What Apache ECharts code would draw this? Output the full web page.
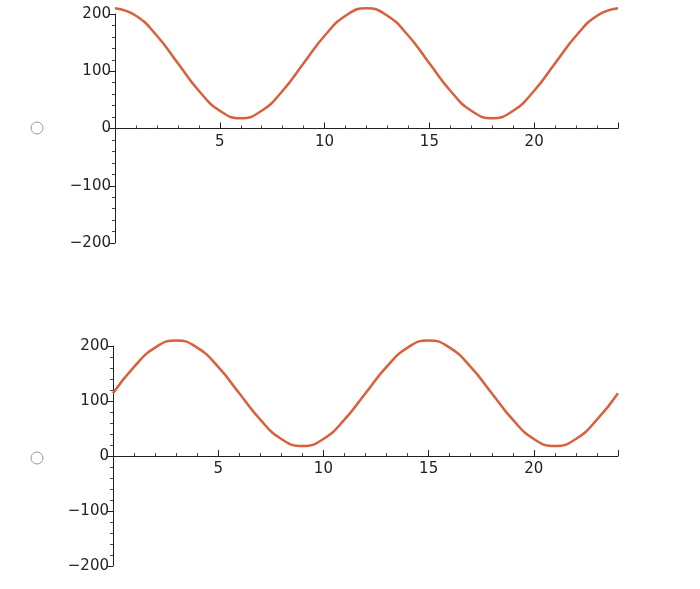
<!DOCTYPE html>
<html><head><meta charset="utf-8">
<script src="https://cdn.jsdelivr.net/npm/echarts@6/dist/echarts.min.js"></script>
<style>html,body{margin:0;padding:0;background:#fff}#c{width:700px;height:589px}</style>
</head><body><div id="c"></div>
<script>
const hours = [0,1,2,3,4,5,6,7,8,9,10,11,12,13,14,15,16,17,18,19,20,21,22,23,24];
const topValues = [210,197,162,114,66,31,18,31,66,114,162,197,210,197,162,114,66,31,18,31,66,114,162,197,210];
const bottomValues = [114,162,197,210,197,162,114,66,31,18,31,66,114,162,197,210,197,162,114,66,31,18,31,66,114];
const yTicks = [-200,-100,0,100,200];
const xTicks = [5,10,15,20];

const chart = echarts.init(document.getElementById('c'));
const font = {fontFamily:'DejaVu Sans', fontSize:15, color:'#222'};
function xAx(i,off){return {type:'value',gridIndex:i,min:0,max:24,interval:5,position:'bottom',offset:off,
  axisLine:{onZero:false,lineStyle:{color:'#222'}},
  axisTick:{inside:true,length:6,lineStyle:{color:'#222'}},
  minorTick:{show:true,splitNumber:5,length:3,lineStyle:{color:'#444'}},
  splitLine:{show:false},
  axisLabel:Object.assign({formatter:v=>xTicks.includes(v)?String(v):'',margin:6},font)};}
function yAx(i){return {type:'value',gridIndex:i,min:-200,max:200,interval:100,
  axisLine:{show:true,lineStyle:{color:'#222'}},
  axisTick:{length:6,lineStyle:{color:'#222'}},
  minorTick:{show:true,splitNumber:5,length:3,lineStyle:{color:'#444'}},
  splitLine:{show:false},
  axisLabel:Object.assign({formatter:v=>yTicks.includes(v)?String(v).replace('-','\u2212'):'' ,margin:4},font)};}
chart.setOption({
  backgroundColor:'#fff',
  animation:false,
  grid:[{left:115,top:14,width:503,height:229},{left:113,top:346,width:505,height:220}],
  xAxis:[xAx(0,-114.5),xAx(1,-110)],
  yAxis:[yAx(0),yAx(1)],
  series:[
    {type:'line',xAxisIndex:0,yAxisIndex:0,smooth:true,clip:false,symbol:'none',data:hours.map((h,i)=>[h,topValues[i]]),lineStyle:{color:'#d9603b',width:2.5}},
    {type:'line',xAxisIndex:1,yAxisIndex:1,smooth:true,clip:false,symbol:'none',data:hours.map((h,i)=>[h,bottomValues[i]]),lineStyle:{color:'#d9603b',width:2.5}}
  ],
  graphic:[
    {type:'circle',shape:{cx:37,cy:128,r:6},style:{fill:'#fff',stroke:'#999',lineWidth:1}},
    {type:'circle',shape:{cx:37,cy:458,r:6},style:{fill:'#fff',stroke:'#999',lineWidth:1}}
  ]
});
</script></body></html>
